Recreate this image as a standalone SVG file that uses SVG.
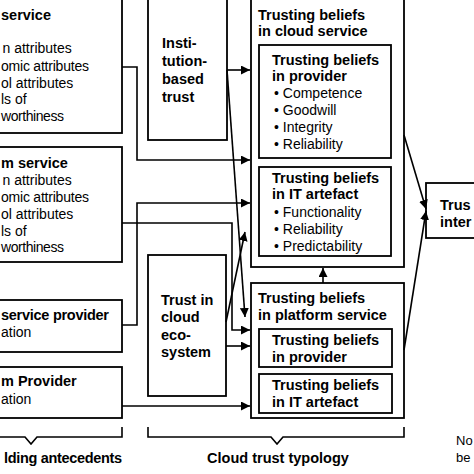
<svg xmlns="http://www.w3.org/2000/svg" width="474" height="474" viewBox="0 0 474 474">
<style>
.box{fill:#fff;stroke:#000;stroke-width:1.8}
.b{font-family:"Liberation Sans",Arial,sans-serif;font-weight:bold;font-size:14.5px;fill:#000}
.r{font-family:"Liberation Sans",Arial,sans-serif;font-size:14px;fill:#000}
.c{fill:none;stroke:#000;stroke-width:1.6}
</style>
<defs>
<marker id="ah" viewBox="0 0 10 10" refX="10" refY="5" markerWidth="9" markerHeight="9" markerUnits="userSpaceOnUse" orient="auto">
<path d="M0,0 L10,5 L0,10 z" fill="#000"/>
</marker>
</defs>
<rect width="474" height="474" fill="#fff"/>

<g id="antecedent-cloud-service">
<rect class="box" x="-5" y="-5" width="127" height="138"/>
<text class="b" x="1" y="20">service</text>
<text class="r" x="2.5" y="53">n attributes</text>
<text class="r" x="1" y="71" textLength="88">omic attributes</text>
<text class="r" x="1" y="88">ol attributes</text>
<text class="r" x="1" y="104">ls of</text>
<text class="r" x="1" y="121" textLength="63">worthiness</text>
</g>

<g id="antecedent-platform-service">
<rect class="box" x="-5" y="147" width="127" height="115"/>
<text class="b" x="1" y="168">m service</text>
<text class="r" x="2.5" y="185">n attributes</text>
<text class="r" x="1" y="202" textLength="88">omic attributes</text>
<text class="r" x="1" y="219">ol attributes</text>
<text class="r" x="1" y="236">ls of</text>
<text class="r" x="1" y="252" textLength="63">worthiness</text>
</g>

<g id="antecedent-cloud-provider">
<rect class="box" x="-5" y="300" width="127" height="52"/>
<text class="b" x="1" y="320" textLength="108">service provider</text>
<text class="r" x="1" y="337">ation</text>
</g>

<g id="antecedent-platform-provider">
<rect class="box" x="-5" y="367" width="127" height="51"/>
<text class="b" x="1" y="386">m Provider</text>
<text class="r" x="1" y="404">ation</text>
</g>

<g id="institution-based-trust">
<rect class="box" x="148" y="-5" width="79" height="145"/>
<text class="b" x="162" y="48">Insti-</text>
<text class="b" x="162" y="66">tution-</text>
<text class="b" x="162" y="84">based</text>
<text class="b" x="162" y="102">trust</text>
</g>

<g id="trust-in-cloud-ecosystem">
<rect class="box" x="148" y="255" width="78" height="141"/>
<text class="b" x="161" y="305">Trust in</text>
<text class="b" x="161" y="322">cloud</text>
<text class="b" x="161" y="340">eco-</text>
<text class="b" x="161" y="357">system</text>
</g>

<g id="beliefs-cloud-service">
<rect class="box" x="251" y="-5" width="153" height="272"/>
<text class="b" x="258" y="20">Trusting beliefs</text>
<text class="b" x="258" y="36">in cloud service</text>
</g>

<g id="beliefs-cloud-provider">
<rect class="box" x="259" y="45" width="132" height="113"/>
<text class="b" x="272" y="65">Trusting beliefs</text>
<text class="b" x="272" y="81">in provider</text>
<text class="r" x="274" y="98">• Competence</text>
<text class="r" x="274" y="115">• Goodwill</text>
<text class="r" x="274" y="132">• Integrity</text>
<text class="r" x="274" y="149">• Reliability</text>
</g>

<g id="beliefs-cloud-it-artefact">
<rect class="box" x="259" y="167" width="132" height="89"/>
<text class="b" x="272" y="183">Trusting beliefs</text>
<text class="b" x="272" y="199">in IT artefact</text>
<text class="r" x="274" y="217">• Functionality</text>
<text class="r" x="274" y="234">• Reliability</text>
<text class="r" x="274" y="251">• Predictability</text>
</g>

<g id="beliefs-platform-service">
<rect class="box" x="251" y="283" width="153" height="135"/>
<text class="b" x="258" y="303">Trusting beliefs</text>
<text class="b" x="258" y="320">in platform service</text>
</g>

<g id="beliefs-platform-provider">
<rect class="box" x="259" y="329" width="133" height="38"/>
<text class="b" x="272" y="345">Trusting beliefs</text>
<text class="b" x="272" y="362">in provider</text>
</g>

<g id="beliefs-platform-it-artefact">
<rect class="box" x="259" y="374" width="133" height="39"/>
<text class="b" x="272" y="390">Trusting beliefs</text>
<text class="b" x="272" y="407">in IT artefact</text>
</g>

<g id="trust-intention">
<rect class="box" x="426" y="183" width="70" height="55"/>
<text class="b" x="440" y="210">Trus</text>
<text class="b" x="440" y="227">inter</text>
</g>

<g id="connectors">
<polyline class="c" points="122,67 137,67 137,160 250,160" marker-end="url(#ah)"/>
<polyline class="c" points="122,325 137,325 137,203 250,203" marker-end="url(#ah)"/>
<polyline class="c" points="122,223 232,223 232,330 250,330" marker-end="url(#ah)"/>
<line class="c" x1="227" y1="70" x2="250" y2="70" marker-end="url(#ah)"/>
<line class="c" x1="227" y1="70" x2="245" y2="317" marker-end="url(#ah)"/>
<line class="c" x1="226" y1="322" x2="245" y2="232" marker-end="url(#ah)"/>
<line class="c" x1="226" y1="346" x2="250" y2="346" marker-end="url(#ah)"/>
<line class="c" x1="122" y1="406" x2="250" y2="406" marker-end="url(#ah)"/>
<line class="c" x1="323" y1="283" x2="323" y2="268" marker-end="url(#ah)"/>
<line class="c" x1="404" y1="135" x2="426" y2="209" marker-end="url(#ah)"/>
<line class="c" x1="404" y1="350" x2="426" y2="211" marker-end="url(#ah)"/>
</g>

<g id="brackets">
<path class="c" d="M122,427 V437 H37 L31,444 L25,437 H-5"/>
<path class="c" d="M148,427 V437 H271 L277,444 L283,437 H404 V427"/>
<text class="b" x="4" y="463" textLength="118">lding antecedents</text>
<text class="b" x="278" y="463" text-anchor="middle">Cloud trust typology</text>
<text class="r" x="456" y="445" style="font-size:13px">No</text>
<text class="r" x="456" y="462" style="font-size:13px">be</text>
</g>
</svg>
